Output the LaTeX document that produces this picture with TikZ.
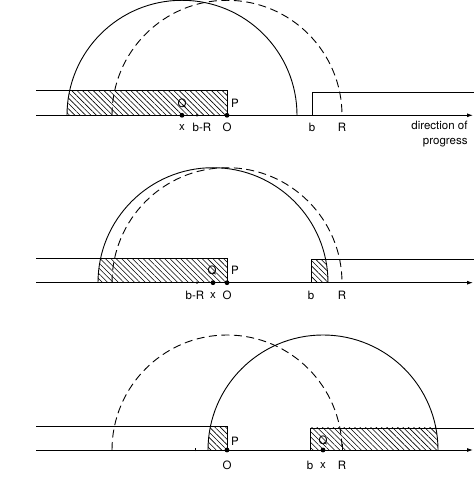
\documentclass[tikz,border=0pt]{standalone}
\usepackage{fontspec}
\setmainfont{TeX Gyre Heros}
\usetikzlibrary{patterns.meta,arrows.meta}

\begin{document}
\begin{tikzpicture}[x=1pt,y=1pt,line width=0.9pt,
  lbl/.style={font=\fontsize{11.5}{15}\selectfont,inner sep=1pt},
  hatch/.style={pattern={Lines[angle=-45,distance=3.8pt,line width=0.6pt]}},
  dashcirc/.style={dash pattern=on 8pt off 4.5pt},
  axis/.style={-{Latex[length=6pt,width=4pt]}}]
\useasboundingbox (0,0) rectangle (474,481);

% first position: Q left of O, no overlap on the right
\begin{scope}[yshift=365.7pt]
\begin{scope}
\clip (182,0) circle (115);
\path[hatch] (36,0) rectangle (227,25);
\end{scope}
\draw (36,25) -- (227,25) -- (227,0);
\draw (312,0) -- (312,23) -- (474,23);
\draw[axis] (36,0) -- (473,0);
\draw (67,0) arc[start angle=180,end angle=0,radius=115];
\draw[dashcirc] (112,0) arc[start angle=180,end angle=0,radius=115];
\fill (182,0) circle (2.4) (227,0) circle (2.4) (197,0) circle (1.3);
\node[lbl] (x1) at (182,-12) {x};
\node[lbl] (bR1) at (202,-12) {b-R};
\node[lbl] (O1) at (227,-12) {O};
\node[lbl] (b1) at (312,-12) {b};
\node[lbl] (R1) at (342,-12) {R};
\node[lbl] (Q1) at (182,12) {Q};
\node[lbl] (P1) at (235,12) {P};
\node[lbl,align=right,anchor=north east] (dir) at (469,-4) {direction of\\progress};
\end{scope}

% second position: Q just left of O
\begin{scope}[yshift=198.3pt]
\begin{scope}
\clip (213,0) circle (115);
\path[hatch] (36,0) rectangle (227,24.4);
\path[hatch] (311,0) rectangle (474,23.4);
\end{scope}
\draw (36,24.4) -- (227,24.4) -- (227,0);
\draw (311,0) -- (311,23.4) -- (474,23.4);
\draw[axis] (36,0) -- (473,0);
\draw (98,0) arc[start angle=180,end angle=0,radius=115];
\draw[dashcirc] (112,0) arc[start angle=180,end angle=0,radius=115];
\fill (213,0) circle (2.4) (227,0) circle (2.4) (197,0) circle (1.3);
\node[lbl] (bR2) at (195,-13) {b-R};
\node[lbl] (x2) at (213,-13) {x};
\node[lbl] (O2) at (227,-13) {O};
\node[lbl] (b2) at (311,-13) {b};
\node[lbl] (R2) at (342,-13) {R};
\node[lbl] (Q2) at (212,12) {Q};
\node[lbl] (P2) at (235,12) {P};
\end{scope}

% third position: Q beyond b
\begin{scope}[yshift=31pt]
\begin{scope}
\clip (323,0) circle (115);
\path[hatch] (36,0) rectangle (227,23.5);
\path[hatch] (310,0) rectangle (474,22);
\end{scope}
\draw (36,23.5) -- (227,23.5) -- (227,0);
\draw (310,0) -- (310,22) -- (474,22);
\draw[axis] (36,0) -- (473,0);
\draw (208,0) arc[start angle=180,end angle=0,radius=115];
\draw[dashcirc] (112,0) arc[start angle=180,end angle=0,radius=115];
\draw (195,-1.5) -- (195,1.5);
\draw (342,0) -- (342,6);
\fill (323,0) circle (2.4) (227,0) circle (2.4);
\node[lbl] (O3) at (227,-15) {O};
\node[lbl] (b3) at (310,-15) {b};
\node[lbl] (x3) at (323,-15) {x};
\node[lbl] (R3) at (342,-15) {R};
\node[lbl] (Q3) at (323,9) {Q};
\node[lbl] (P3) at (235,9) {P};
\end{scope}
\end{tikzpicture}
\end{document}
